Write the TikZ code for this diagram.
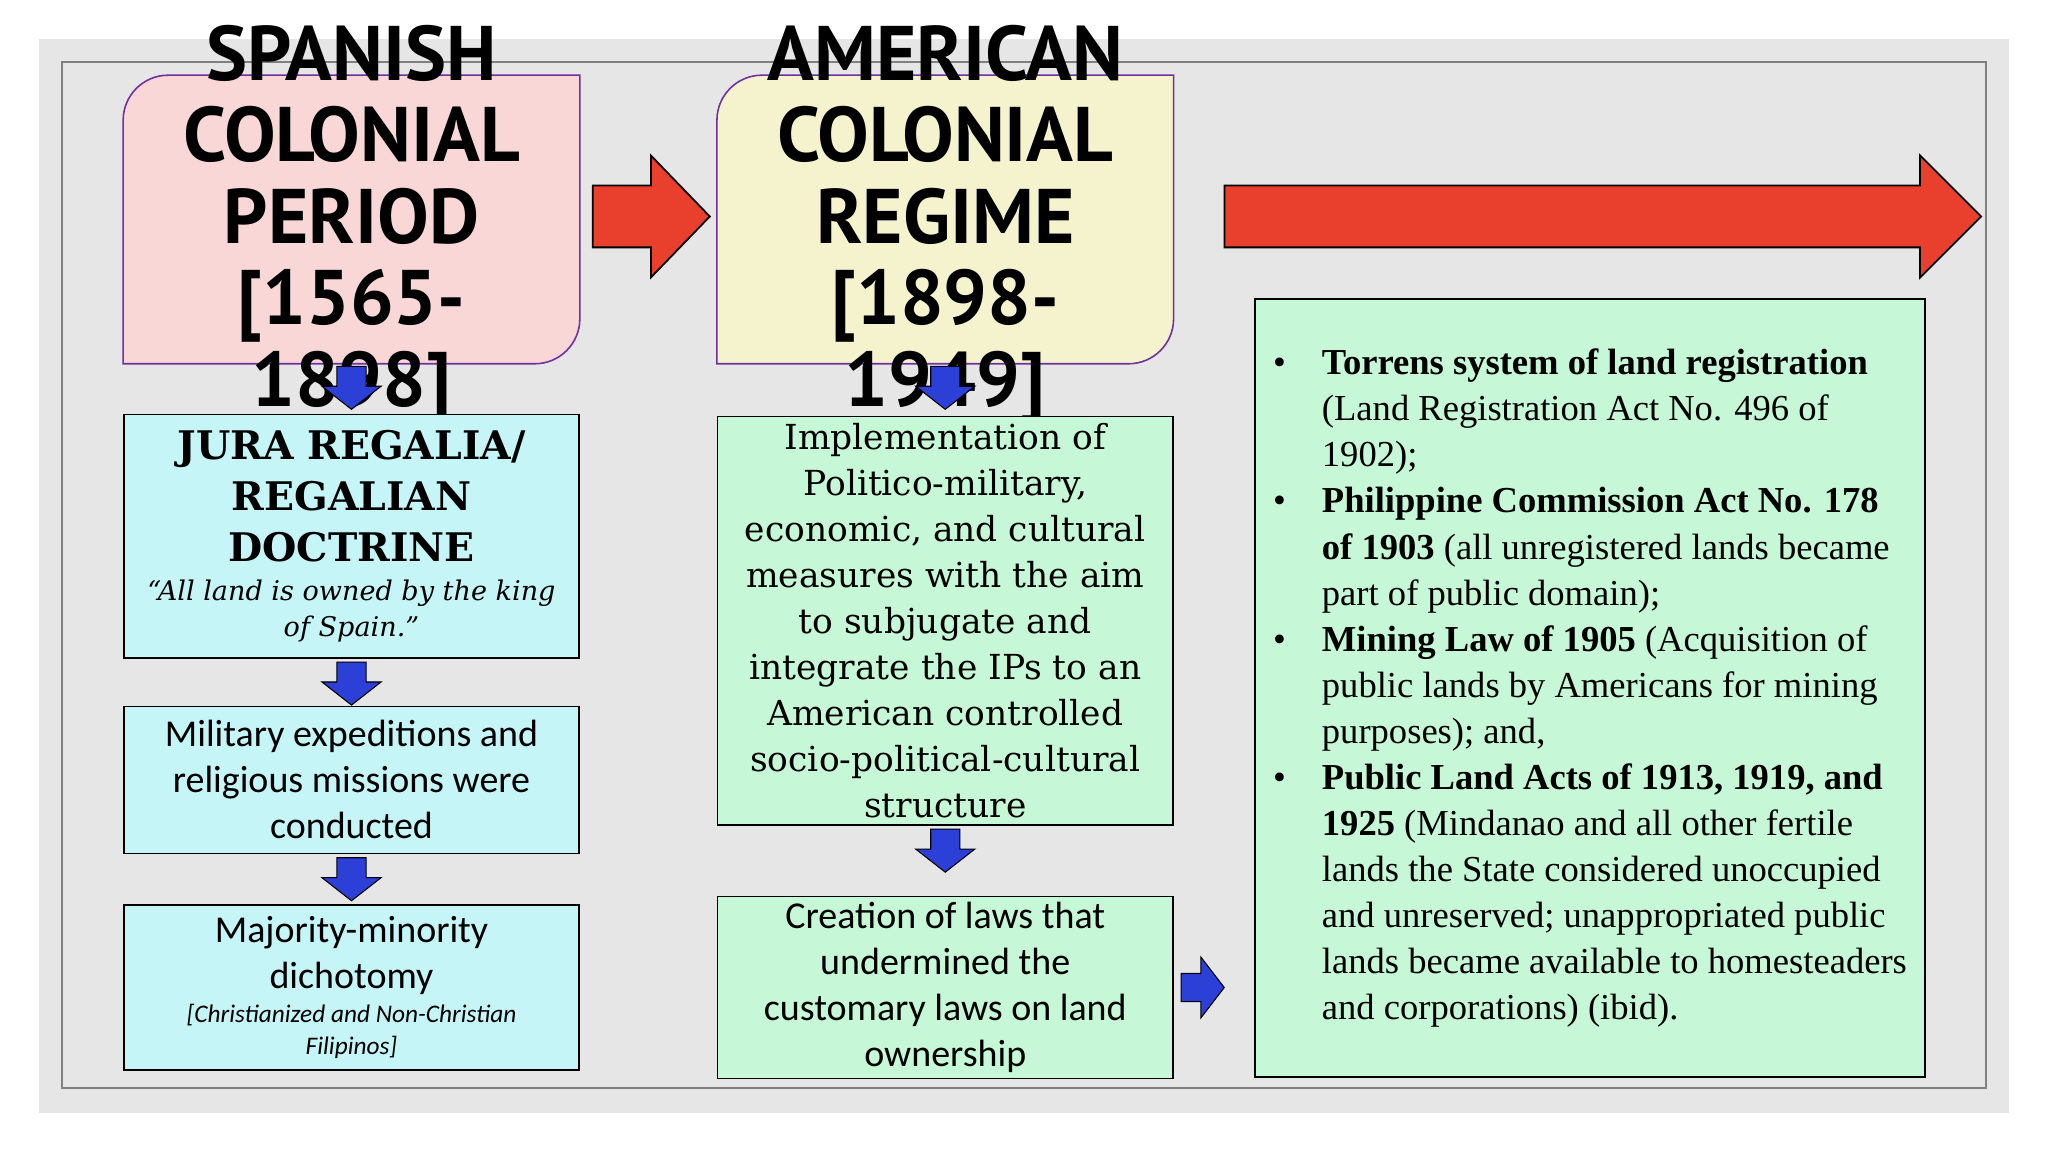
\documentclass[tikz,border=0pt]{standalone}
\usepackage{fontspec}
\usetikzlibrary{shapes.arrows,positioning,calc}
\newfontfamily\headfont{PT Sans}
\newfontfamily\bookfont{DejaVu Serif}
\newfontfamily\calfont{Carlito}
\newfontfamily\garfont{Liberation Serif}
\definecolor{slidegray}{RGB}{230,230,230}
\definecolor{framegray}{RGB}{128,128,128}
\definecolor{spanpink}{RGB}{248,215,214}
\definecolor{amyellow}{RGB}{245,243,205}
\definecolor{regalcyan}{RGB}{198,245,247}
\definecolor{lawgreen}{RGB}{198,247,214}
\definecolor{periodpurple}{RGB}{112,48,160}
\definecolor{arrowred}{RGB}{232,64,44}
\definecolor{arrowblue}{RGB}{44,64,216}

\begin{document}
\begin{tikzpicture}[x=0.01cm,y=0.01cm]
	\tikzset{periodbox/.style={minimum width=4.55cm,minimum height=2.87cm,inner sep=0pt}}
	\tikzset{periodframe/.style={draw=periodpurple,line width=0.45pt}}
	\tikzset{periodtext/.style={align=center,yshift=-0.05cm,font=\headfont\bfseries\fontsize{22}{23.2}\selectfont}}
	\tikzset{stagebox/.style={draw=black,line width=0.45pt,minimum width=4.55cm,inner sep=0pt,align=center}}
	\tikzset{downarrow/.style={single arrow,draw=black,line width=0.3pt,fill=arrowblue,shape border rotate=270,minimum height=0.43cm,inner xsep=0.14cm,inner ysep=0.105cm,single arrow head extend=0.15cm,single arrow tip angle=104}}
	\tikzset{rightarrow/.style={single arrow,draw=black,line width=0.3pt,fill=arrowblue,minimum height=0.43cm,inner xsep=0.1cm,inner ysep=0.135cm,single arrow head extend=0.165cm,single arrow tip angle=105}}
	\tikzset{redarrow/.style={single arrow,draw=black,line width=0.5pt,fill=arrowred,yshift=0.03cm,inner xsep=0.29cm,inner ysep=0.3cm,single arrow head extend=0.3cm,single arrow tip angle=92}}

	\fill[white] (0,0) rectangle (2048,1152);
	\useasboundingbox (0,0) rectangle (2048,1152);
	\fill[slidegray] (39,39) rectangle (2009,1113);
	\draw[framegray,line width=0.6pt] (62,64) rectangle (1986,1090);

	% period headings
	\node[periodbox] (tsp) at (351.5,932.5) {};
	\node[periodbox,right=1.37cm of tsp] (tam) {};
	\filldraw[periodframe,fill=spanpink] (tsp.north east) -- ([yshift=0.45cm]tsp.south east) arc[start angle=0,end angle=-90,radius=0.45cm] -- (tsp.south west) -- ([yshift=-0.45cm]tsp.north west) arc[start angle=180,end angle=90,radius=0.45cm] -- cycle;
	\filldraw[periodframe,fill=amyellow] (tam.north east) -- ([yshift=0.45cm]tam.south east) arc[start angle=0,end angle=-90,radius=0.45cm] -- (tam.south west) -- ([yshift=-0.45cm]tam.north west) arc[start angle=180,end angle=90,radius=0.45cm] -- cycle;
	\node[periodtext] (tsplabel) at (tsp.center) {SPANISH\\COLONIAL\\PERIOD\\{[}1565-\\1898]};
	\node[periodtext] (tamlabel) at (tam.center) {AMERICAN\\COLONIAL\\REGIME\\{[}1898-\\1949]};

	% spanish column
	\node[stagebox,fill=regalcyan,minimum height=2.43cm,below=0.5cm of tsp,font=\bookfont\bfseries\fontsize{11.2}{14.5}\selectfont] (jura) {JURA REGALIA/\\REGALIAN\\DOCTRINE\\[-3.4pt]{\mdseries\itshape\fontsize{7.7}{10}\selectfont “All land is owned by the king}\\[-4.2pt]{\mdseries\itshape\fontsize{7.7}{10}\selectfont of Spain.”}};
	\node[stagebox,fill=regalcyan,minimum height=1.47cm,below=0.47cm of jura,font=\calfont\fontsize{10.8}{13.1}\selectfont] (mil) {Military expeditions and\\religious missions were\\conducted};
	\node[stagebox,fill=regalcyan,minimum height=1.65cm,below=0.5cm of mil,font=\calfont\fontsize{10.8}{13.1}\selectfont] (maj) {Majority-minority\\dichotomy\\[-3.4pt]{\itshape\fontsize{7.2}{9.1}\selectfont {[}Christianized and Non-Christian}\\[-4pt]{\itshape\fontsize{7.2}{9.1}\selectfont Filipinos]}};

	% american column
	\node[stagebox,fill=lawgreen,minimum height=4.08cm,below=0.52cm of tam,font=\bookfont\fontsize{9.8}{13.1}\selectfont] (impl) {Implementation of\\Politico-military,\\economic, and cultural\\measures with the aim\\to subjugate and\\integrate the IPs to an\\American controlled\\socio-political-cultural\\structure};
	\node[stagebox,fill=lawgreen,minimum height=1.82cm,below=0.7cm of impl,font=\calfont\fontsize{10.8}{13.1}\selectfont] (crea) {Creation of laws that\\undermined the\\customary laws on land\\ownership};

	% land laws
	\node[draw=black,line width=0.45pt,fill=lawgreen,minimum width=6.7cm,minimum height=7.78cm,inner sep=0pt,anchor=north west,font=\garfont\fontsize{10.4}{13.1}\selectfont] (laws) at (1254,854) {%
		\begin{tabular}{@{}l@{\hspace{0.36cm}}l@{}}
		\textbullet & \textbf{Torrens system of land registration}\\
		& (Land Registration Act No. 496 of\\
		& 1902);\\
		\textbullet & \textbf{Philippine Commission Act No. 178}\\
		& \textbf{of 1903} (all unregistered lands became\\
		& part of public domain);\\
		\textbullet & \textbf{Mining Law of 1905} (Acquisition of\\
		& public lands by Americans for mining\\
		& purposes); and,\\
		\textbullet & \textbf{Public Land Acts of 1913, 1919, and}\\
		& \textbf{1925} (Mindanao and all other fertile\\
		& lands the State considered unoccupied\\
		& and unreserved; unappropriated public\\
		& lands became available to homesteaders\\
		& and corporations) (ibid).
		\end{tabular}};

	% arrows
	\node[redarrow,minimum height=1.17cm,right=0.12cm of tsp] (ra) {};
	\node[redarrow,minimum height=7.56cm,single arrow tip angle=90,right=0.5cm of tam] (rb) {};
	\node[downarrow,below=0.02cm of tsp] (da) {};
	\node[downarrow,below=0.03cm of jura] (db) {};
	\node[downarrow,below=0.03cm of mil] (dc) {};
	\node[downarrow,below=0.02cm of tam] (dd) {};
	\node[downarrow,below=0.03cm of impl] (de) {};
	\node[rightarrow,right=0.07cm of crea] (df) {};
\end{tikzpicture}
\end{document}
